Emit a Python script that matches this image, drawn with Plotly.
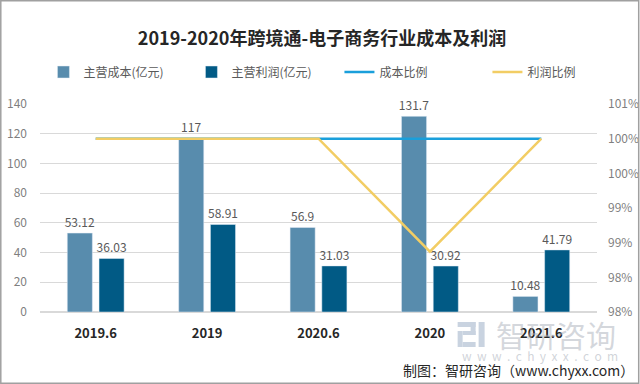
import plotly.graph_objects as go

categories = ["2019.6", "2019", "2020.6", "2020", "2021.6"]
cost = [53.12, 117, 56.9, 131.7, 10.48]
profit = [36.03, 58.91, 31.03, 30.92, 41.79]
cost_ratio = [100, 100, 100, 100, 100]
profit_ratio = [100, 100, 100, 98.37, 100]
left_ticks = [0, 20, 40, 60, 80, 100, 120, 140]
right_tickvals = [97.5, 98.0, 98.5, 99.0, 99.5, 100.0, 100.5]
right_ticktext = ["98%", "98%", "99%", "99%", "100%", "100%", "101%"]

FONT = "Noto Sans CJK SC"
label_font = dict(family=FONT, size=12, color="#595959")

fig = go.Figure()
fig.add_trace(go.Bar(
    x=categories, y=cost, name="主营成本(亿元)", marker_color="#588cad",
    text=[str(v) for v in cost], textposition="outside", textfont=label_font,
    constraintext="none", cliponaxis=False,
))
fig.add_trace(go.Bar(
    x=categories, y=profit, name="主营利润(亿元)", marker_color="#015a85",
    text=[str(v) for v in profit], textposition="outside", textfont=label_font,
    constraintext="none", cliponaxis=False,
))
fig.add_trace(go.Scatter(
    x=categories, y=cost_ratio, name="成本比例", mode="lines", yaxis="y2",
    line=dict(color="#1a9fdb", width=2.5),
))
fig.add_trace(go.Scatter(
    x=categories, y=profit_ratio, name="利润比例", mode="lines", yaxis="y2",
    line=dict(color="#f2cd64", width=2.5),
))

# paper coordinate helpers (plot area 40..597.5 px horizontally, 104..312 px vertically)
L, R, T, B = 40, 597.5, 104, 312
def px(x):
    return (x - L) / (R - L)
def py(y):
    return (B - y) / (B - T)

fig.update_layout(
    width=640, height=384,
    margin=dict(l=L, r=640 - R, t=T, b=384 - B, autoexpand=False),
    paper_bgcolor="white", plot_bgcolor="white",
    font=dict(family=FONT, color="#595959"),
    barmode="group", bargap=0.43, bargroupgap=0.21,
    showlegend=True,
    title=dict(text="<b>2019-2020年跨境通-电子商务行业成本及利润</b>",
               x=322 / 640, xref="container", xanchor="center",
               y=1 - 39 / 384, yref="container", yanchor="middle",
               font=dict(family=FONT, size=18, color="#262626")),
    legend=dict(orientation="h", x=-0.001, xanchor="left", y=py(72), yanchor="middle",
                indentation=4,
                font=dict(family=FONT, size=12, color="#595959"),
                entrywidth=99, entrywidthmode="pixels", traceorder="normal",
                bgcolor="rgba(0,0,0,0)"),
    xaxis=dict(showgrid=False, showline=False, ticks="", automargin=False,
               ticklabelstandoff=12,
               tickfont=dict(family=FONT, size=13, color="#262626", weight="bold")),
    yaxis=dict(range=[0, 140], tickvals=left_ticks, showgrid=True, gridcolor="#d9d9d9",
               gridwidth=1, zeroline=True, zerolinecolor="#d9d9d9", showline=False,
               ticks="", ticklabelstandoff=12, automargin=False,
               tickfont=dict(family=FONT, size=12, color="#7f7f7f")),
    yaxis2=dict(range=[97.5, 100.5], overlaying="y", side="right",
                tickvals=right_tickvals, ticktext=right_ticktext,
                showgrid=False, zeroline=False, showline=False, ticks="",
                ticklabelstandoff=10, automargin=False,
                tickfont=dict(family=FONT, size=12, color="#7f7f7f")),
)

# frame border around the picture
fig.add_shape(type="rect", xref="paper", yref="paper",
              x0=px(0.75), x1=px(639.25), y0=py(383.25), y1=py(0.75),
              line=dict(color="#a0a0a0", width=1.5), layer="above")

# watermark logo (approximate)
logo_color = "#c9d3e0"
for x0, y0, x1, y1 in [(458, 322, 476, 327), (471, 322, 476, 335), (463, 331, 476, 335),
                       (458, 331, 463, 347), (463, 342, 476, 347), (479, 322, 485, 347)]:
    fig.add_shape(type="rect", xref="paper", yref="paper",
                  x0=px(x0), x1=px(x1), y0=py(y1), y1=py(y0),
                  line=dict(width=0), fillcolor=logo_color, layer="below")

fig.add_annotation(text="智研咨询", xref="paper", yref="paper", x=px(556), y=py(334),
                   xanchor="center", yanchor="middle", showarrow=False,
                   font=dict(family=FONT, size=30, color="rgba(170,176,186,0.5)"))
fig.add_annotation(text="\u00a0\u00a0".join("www.chyxx.com"), xref="paper", yref="paper",
                   x=px(540), y=py(355), xanchor="center", yanchor="middle", showarrow=False,
                   font=dict(family=FONT, size=12, color="rgba(170,176,186,0.55)"))
fig.add_annotation(text="制图：智研咨询（www.chyxx.com）", xref="paper", yref="paper",
                   x=px(637), y=py(370), xanchor="right", yanchor="middle", showarrow=False,
                   font=dict(family=FONT, size=14, color="#262626"))

fig.write_html("out.html", post_script="document.body.style.margin='0px';",
               config={"displayModeBar": False})
